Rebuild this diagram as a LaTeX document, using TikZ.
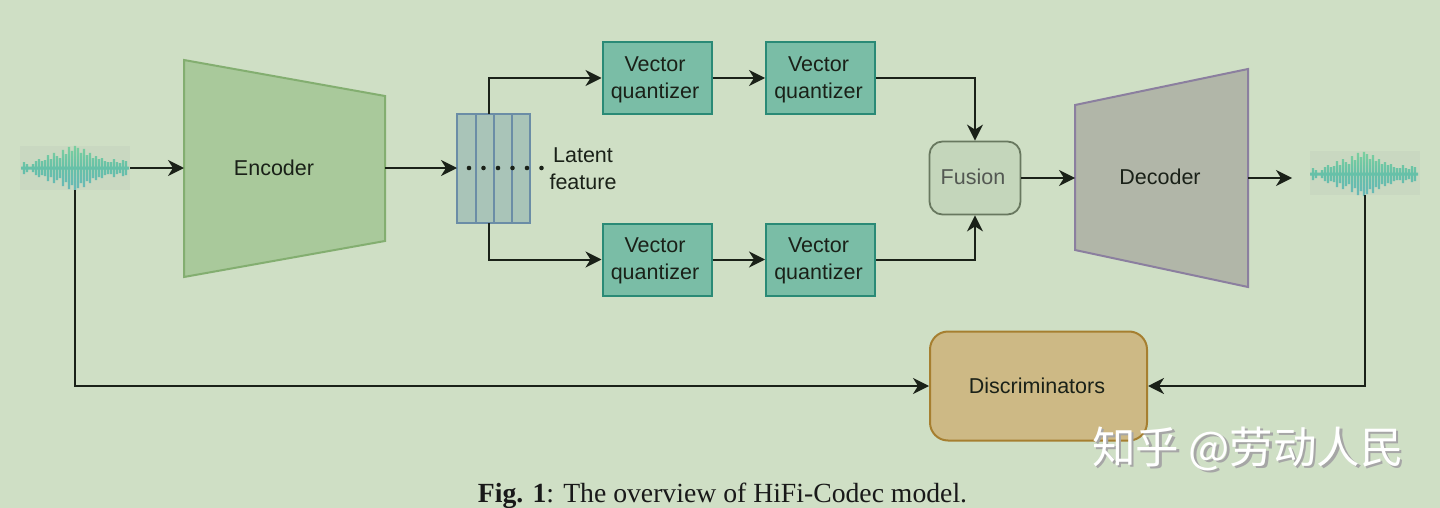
\documentclass[tikz,border=0pt]{standalone}
\usepackage{fontspec}
\setmainfont{Liberation Serif}
\setsansfont{Liberation Sans}
\newfontfamily\cjkwm{Noto Sans CJK SC}
\usetikzlibrary{arrows.meta}
\definecolor{bgc}{HTML}{CFDFC5}
\definecolor{inkc}{HTML}{1A2118}
\definecolor{encf}{HTML}{A9C99B}
\definecolor{encd}{HTML}{83AE70}
\definecolor{vqf}{HTML}{7ABDA6}
\definecolor{vqd}{HTML}{2A8A76}
\definecolor{latf}{HTML}{A9C4B8}
\definecolor{latd}{HTML}{6B8DA6}
\definecolor{fusf}{HTML}{C4D6BB}
\definecolor{fusd}{HTML}{68785F}
\definecolor{decf}{HTML}{B1B6A8}
\definecolor{decd}{HTML}{8B7F9F}
\definecolor{disf}{HTML}{CDB985}
\definecolor{disd}{HTML}{A67F30}
\definecolor{wavebg}{HTML}{C9D8C1}
\definecolor{wavetop}{HTML}{7ACF9F}
\definecolor{wavemid}{HTML}{66C0A8}
\definecolor{wavebot}{HTML}{68B8B8}
\tikzset{
  lab/.style={font=\sffamily\fontsize{21.5}{27}\selectfont,text=inkc,align=center},
  conn/.style={draw=inkc,line width=2pt,-{Stealth[length=16pt,width=16pt,inset=5pt]}},
  vqbox/.style={lab,draw=vqd,fill=vqf,line width=2pt,minimum width=109pt,minimum height=72pt,inner sep=0pt},
  wavebox/.style={fill=wavebg,minimum width=110pt,minimum height=44pt,inner sep=0pt},
  strip/.style={draw=latd,fill=latf,line width=2pt},
  latdot/.style={circle,fill=inkc,inner sep=0pt,minimum size=4.6pt},
}
\newcommand{\wavebars}[1]{%
  \begin{scope}[shift={(#1)}]
  \shade[top color=wavetop,bottom color=wavebot,middle color=wavemid]
  (-54,-1.5) rectangle (54,1.5)
  \foreach \x/\h in {-51/6,-48/4,-42/4,-39/7,-36/9,-33/7,-30/8,-27/13,-24/9,-21/15,-18/12,-15/10,-12/18,-9/14,-6/21,-3/17,0/22,3/20,6/15,9/19,12/13,15/15,18/10,21/12,24/9,27/10,30/7,33/6,36/6,39/9,42/6,45/5,48/8,51/7}
  {(\x-1.1,-\h) rectangle (\x+1.1,\h)};
  \end{scope}}
\begin{document}
\begin{tikzpicture}[x=1pt,y=-1pt]
\useasboundingbox (0,0) rectangle (1440,508);
\fill[bgc] (0,0) rectangle (1440,508);
% waveforms
\node[wavebox] (wavein) at (75,168) {};
\wavebars{75,168}
\node[wavebox] (waveout) at (1365,173) {};
\wavebars{1364,174}
% encoder
\draw[draw=encd,fill=encf,line width=2pt] (184,60) -- (385,96) -- (385,241) -- (184,277) -- cycle;
\node[lab] (enc) at (274,168) {Encoder};
\coordinate (encin) at (184,168);
\coordinate (encout) at (385,168);
% decoder
\draw[draw=decd,fill=decf,line width=2pt] (1075,105) -- (1248,69) -- (1248,287) -- (1075,250) -- cycle;
\node[lab] (dec) at (1160,177) {Decoder};
\coordinate (decin) at (1075,178);
\coordinate (decout) at (1248,178);
\coordinate (outend) at (1292,178);
% latent
\draw[strip] (457,114) rectangle (475.5,223);
\draw[strip] (475.5,114) rectangle (494,223);
\draw[strip] (494,114) rectangle (512,223);
\draw[strip] (512,114) rectangle (530,223);
\coordinate (latin) at (457,168);
\coordinate (lattop) at (489,114);
\coordinate (latbot) at (489,223);
\foreach \n/\x in {a/469,b/483.5,c/498,d/512.5,e/527,f/541.5}
  \node[latdot] (dot\n) at (\x,168) {};
\node[lab,anchor=center] (latlab) at (583,169) {Latent\\feature};
% VQ
\tikzset{vqtext/.style={text height=44pt,text depth=24pt}}
\node[vqbox] (vqa) at (657,78) {};
\node[vqbox] (vqb) at (820.5,78) {};
\node[vqbox] (vqc) at (657,259.5) {};
\node[vqbox] (vqd) at (820.5,259.5) {};
\node[lab] (vqalab) at ([xshift=-2pt,yshift=-1.5pt]vqa.center) {Vector\\quantizer};
\node[lab] (vqblab) at ([xshift=-2pt,yshift=-1.5pt]vqb.center) {Vector\\quantizer};
\node[lab] (vqclab) at ([xshift=-2pt,yshift=-1.5pt]vqc.center) {Vector\\quantizer};
\node[lab] (vqdlab) at ([xshift=-2pt,yshift=-1.5pt]vqd.center) {Vector\\quantizer};
% fusion
\node[draw=fusd,fill=fusf,line width=1.8pt,rounded corners=13pt,minimum width=91pt,minimum height=73pt,inner sep=0pt] (fus) at (975,178) {};
\node[lab,text=inkc!75!white] (fuslab) at (973,176.5) {Fusion};
% discriminators
\node[lab,draw=disd,fill=disf,line width=2pt,rounded corners=18pt,minimum width=217pt,minimum height=109pt,inner sep=0pt] (dis) at (1038.5,386) {\hspace*{-3pt}Discriminators};
% connectors
\draw[conn] (wavein.east) -- (encin);
\draw[conn] (encout) -- (latin);
\draw[conn] (lattop) |- (vqa.west);
\draw[conn] (latbot) |- (vqc.west);
\draw[conn] (vqa) -- (vqb);
\draw[conn] (vqc) -- (vqd);
\draw[conn] (vqb.east) -| (fus.north);
\draw[conn] (vqd.east) -| (fus.south);
\draw[conn] (fus.east) -- (decin);
\draw[conn] (decout) -- (outend);
\draw[conn] (wavein.south) |- (dis.west);
\draw[conn] (waveout.south) |- (dis.east);
% watermark
\node[font=\cjkwm\fontsize{43.5}{50}\selectfont,text=gray!70!white,anchor=center] (wmshadow) at (1250.5,450.5) {知乎 @劳动人民};
\node[font=\cjkwm\fontsize{43.5}{50}\selectfont,text=white,anchor=center] (wm) at (1248,448.5) {知乎 @劳动人民};
% caption
\node[font=\fontsize{27.7}{30}\selectfont,text=black!90!white] (cap) at (722.5,496) {\textbf{Fig. 1}: The overview of HiFi-Codec model.};
\end{tikzpicture}
\end{document}
